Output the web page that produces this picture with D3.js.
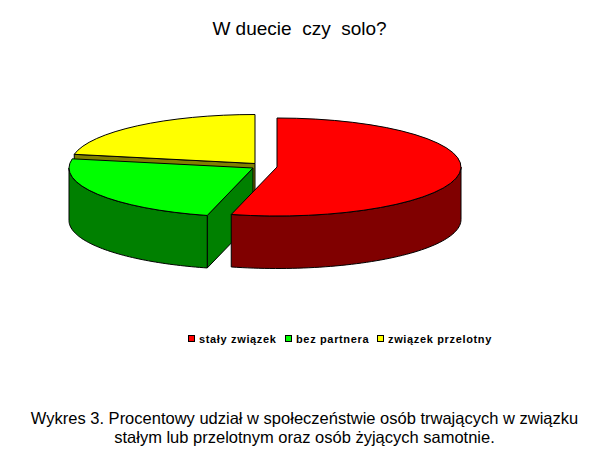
<!DOCTYPE html>
<html lang="pl">
<head>
<meta charset="utf-8">
<script src="https://cdn.jsdelivr.net/npm/d3@7"></script>
<style>
  html, body { margin: 0; padding: 0; background: #fff; }
  text { font-family: "Liberation Sans", Arial, sans-serif; fill: #000; }
</style>
</head>
<body>
<div id="chart"></div>
<script>
// Data
var categories = ["stały związek", "bez partnera", "związek przelotny"];
var values = [54, 24, 22];
var topColors = ["#ff0000", "#00ff00", "#ffff00"];
var sideColors = ["#800000", "#008000", "#808000"];

var title = "W duecie  czy  solo?";
var captionLines = [
  "Wykres 3. Procentowy udział w społeczeństwie osób trwających w związku",
  "stałym lub przelotnym oraz osób żyjących samotnie."
];

// SVG dimensions
var svgWidth = 609;
var svgHeight = 463;

// Pie layout: ellipse radii, wall height and the exploded centre of each slice
var rx = 184;
var ry = 49;
var depth = 52.5;
var centers = [[277, 167], [253, 168], [255, 163.5]];

var svg = d3.select("#chart")
  .append("svg")
  .attr("width", svgWidth)
  .attr("height", svgHeight)
  .style("display", "block");

svg.append("text")
  .attr("x", 299.5)
  .attr("y", 35)
  .attr("text-anchor", "middle")
  .attr("font-size", 19)
  .style("white-space", "pre")
  .text(title);

var slices = d3.pie().sort(null)(values);

// d3.arc draws in circle space, the group squashes it to an ellipse
var arc = d3.arc().innerRadius(0).outerRadius(rx);
var line = d3.line();

function rimPoint(c, t, dy) {
  return [c[0] + rx * Math.sin(t), c[1] - ry * Math.cos(t) + dy];
}

// Points along the rim between two angles
function rim(c, a, b, dy) {
  var n = 60;
  return d3.range(n + 1).map(function(i) {
    return rimPoint(c, a + (b - a) * i / n, dy);
  });
}

// Draw back to front: yellow, green, red
[2, 1, 0].forEach(function(i) {
  var s = slices[i];
  var c = centers[i];
  var g = svg.append("g");

  // Radial wall on the start side (faces us for green and yellow, hidden for red)
  if (s.startAngle > Math.PI) {
    var p = rimPoint(c, s.startAngle, 0);
    g.append("path")
      .attr("d", line([c, p, [p[0], p[1] + depth], [c[0], c[1] + depth]]) + "Z")
      .attr("fill", sideColors[i])
      .attr("stroke", "#000");
  }

  // Outer wall, front half of the ellipse only
  var a = Math.max(s.startAngle, Math.PI / 2);
  var b = Math.min(s.endAngle, Math.PI * 1.5);
  if (b > a) {
    g.append("path")
      .attr("d", line(rim(c, a, b, 0).concat(rim(c, b, a, depth))) + "Z")
      .attr("fill", sideColors[i])
      .attr("stroke", "#000");
  }

  // Top face
  g.append("path")
    .attr("transform", "translate(" + c[0] + "," + c[1] + ") scale(1," + (ry / rx) + ")")
    .attr("d", arc(s))
    .attr("fill", topColors[i])
    .attr("stroke", "#000")
    .attr("vector-effect", "non-scaling-stroke");
});

// Legend
var legendX = [188, 285, 377];
var legend = svg.selectAll(".legend")
  .data(categories)
  .enter()
  .append("g")
  .attr("class", "legend")
  .attr("transform", function(d, i) { return "translate(" + legendX[i] + ",335)"; });

legend.append("rect")
  .attr("x", 0.5)
  .attr("y", 0.5)
  .attr("width", 6)
  .attr("height", 6)
  .attr("fill", function(d, i) { return topColors[i]; })
  .attr("stroke", "#000");

legend.append("text")
  .attr("x", 11)
  .attr("y", 7.5)
  .attr("font-size", 11)
  .attr("font-weight", "bold")
  .attr("letter-spacing", 0.65)
  .text(function(d) { return d; });

// Caption
svg.selectAll(".caption")
  .data(captionLines)
  .enter()
  .append("text")
  .attr("class", "caption")
  .attr("x", 304.5)
  .attr("y", function(d, i) { return 424 + i * 19; })
  .attr("text-anchor", "middle")
  .attr("font-size", 16.5)
  .text(function(d) { return d; });
</script>
</body>
</html>
